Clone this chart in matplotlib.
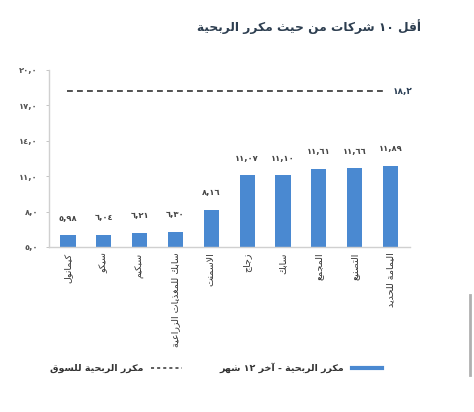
import re
import matplotlib
matplotlib.use("Agg")
import matplotlib.pyplot as plt
from matplotlib.lines import Line2D

# ---------------- data ----------------
title = "أقل ١٠ شركات من حيث مكرر الربحية"
companies = ["كيمانول", "سيكو", "سبكيم", "سابك للمغذيات الزراعية", "الاسمنت",
             "زجاج", "سابك", "المجمع", "التصنيع", "اليمامة للحديد"]
pe_values = [5.98, 6.04, 6.21, 6.30, 8.16, 11.07, 11.10, 11.61, 11.66, 11.89]
market_pe = 18.2
y_ticks = [5.0, 8.0, 11.0, 14.0, 17.0, 20.0]
legend_bar = "مكرر الربحية - آخر ١٢ شهر"
legend_market = "مكرر الربحية للسوق"

# ---------------- simple Arabic shaping ----------------
_BASE = {'ء': 0xFE80, 'آ': 0xFE81, 'أ': 0xFE83, 'ؤ': 0xFE85, 'إ': 0xFE87, 'ئ': 0xFE89,
         'ا': 0xFE8D, 'ب': 0xFE8F, 'ة': 0xFE93, 'ت': 0xFE95, 'ث': 0xFE99, 'ج': 0xFE9D,
         'ح': 0xFEA1, 'خ': 0xFEA5, 'د': 0xFEA9, 'ذ': 0xFEAB, 'ر': 0xFEAD, 'ز': 0xFEAF,
         'س': 0xFEB1, 'ش': 0xFEB5, 'ص': 0xFEB9, 'ض': 0xFEBD, 'ط': 0xFEC1, 'ظ': 0xFEC5,
         'ع': 0xFEC9, 'غ': 0xFECD, 'ف': 0xFED1, 'ق': 0xFED5, 'ك': 0xFED9, 'ل': 0xFEDD,
         'م': 0xFEE1, 'ن': 0xFEE5, 'ه': 0xFEE9, 'و': 0xFEED, 'ى': 0xFEEF, 'ي': 0xFEF1}
_RIGHT_ONLY = set('آأؤإاةدذرزوى')
_LAMALEF = {'آ': 0xFEF5, 'أ': 0xFEF7, 'إ': 0xFEF9, 'ا': 0xFEFB}


def shape(text):
    toks = []
    i = 0
    while i < len(text):
        ch = text[i]
        if ch == 'ل' and i + 1 < len(text) and text[i + 1] in _LAMALEF:
            toks.append(('LA', text[i + 1]))
            i += 2
        else:
            toks.append(('C', ch))
            i += 1

    def is_ar(t):
        return t[0] == 'LA' or (t[1] in _BASE and t[1] != 'ء')

    def dual(t):
        return t[0] == 'C' and t[1] in _BASE and t[1] not in _RIGHT_ONLY and t[1] != 'ء'

    out = []
    for k, t in enumerate(toks):
        if not is_ar(t):
            out.append(t[1])
            continue
        prev = toks[k - 1] if k > 0 else None
        nxt = toks[k + 1] if k + 1 < len(toks) else None
        jp = prev is not None and dual(prev)
        jn = dual(t) and nxt is not None and is_ar(nxt)
        if t[0] == 'LA':
            out.append(chr(_LAMALEF[t[1]] + (1 if jp else 0)))
            continue
        b = _BASE[t[1]]
        if jp and jn:
            out.append(chr(b + 3))
        elif jp:
            out.append(chr(b + 1))
        elif jn:
            out.append(chr(b + 2))
        else:
            out.append(chr(b))
    s = ''.join(out)[::-1]
    s = re.sub(r'[0-9\u0660-\u0669][0-9\u0660-\u0669\u066B,.]*', lambda m: m.group(0)[::-1], s)
    return s


def ar_num(v, nd):
    s = f"{v:.{nd}f}".replace('.', ',')
    return s.translate(str.maketrans('0123456789', '٠١٢٣٤٥٦٧٨٩'))


# ---------------- figure ----------------
plt.rcParams['font.family'] = ['DejaVu Sans']
fig = plt.figure(figsize=(4.74, 4.12), dpi=100)
ax = fig.add_axes([0.1034, 0.4005, 0.762, 0.4296])

bar_color = "#4A89D1"
x = list(range(len(companies)))
ax.bar(x, pe_values, width=0.42, color=bar_color, zorder=2)
ax.set_ylim(5, 20)
ax.set_xlim(-0.53, 9.55)

for xi, v in zip(x, pe_values):
    ax.annotate(ar_num(v, 2), (xi, v), xytext=(0, 9), textcoords='offset points',
                ha='center', va='bottom', fontsize=6, color='#444444', fontweight='bold')

ax.hlines(market_pe, -0.03, 8.85, colors='#333333', linestyles=(0, (3.5, 2.5)), linewidth=1.2, zorder=3)
ax.text(9.05, market_pe, ar_num(market_pe, 1), ha='left', va='center', fontsize=6.5,
        color='#2b3f55', fontweight='bold')

ax.set_yticks(y_ticks)
ax.set_yticklabels([ar_num(t, 1) for t in y_ticks], fontsize=6, color='#555555', fontweight='bold')
ax.set_xticks(x)
ax.set_xticklabels([shape(c) for c in companies], rotation=90, va='top', ha='center',
                   fontsize=6.8, color='#333333')
ax.tick_params(axis='y', length=2, width=0.6, color='#bbbbbb', pad=6)
ax.tick_params(axis='x', length=0, pad=4)

for s in ['top', 'right']:
    ax.spines[s].set_visible(False)
for s in ['left', 'bottom']:
    ax.spines[s].set_color('#d0d0d0')
    ax.spines[s].set_linewidth(1.0)

fig.text(0.888, 0.935, shape(title), ha='right', va='center', fontsize=8.8,
         fontweight='bold', color='#2d3e50')

handles = [Line2D([], [], color='#333333', linestyle=(0, (2, 2)), linewidth=1.1),
           Line2D([], [], color=bar_color, linewidth=3)]
leg = fig.legend(handles, [shape(legend_market), shape(legend_bar)], ncol=2,
                 loc='center', bbox_to_anchor=(0.456, 0.107), frameon=False,
                 markerfirst=False, fontsize=6.8, handlelength=3.2, columnspacing=4.0,
                 handletextpad=0.8)
for t in leg.get_texts():
    t.set_fontweight('bold')
    t.set_color('#333333')

fig.add_artist(Line2D([0.992, 0.992], [1 - 295 / 412, 1 - 375 / 412], color='#b0b0b0', linewidth=2))

fig.savefig("out.png", dpi=100)
